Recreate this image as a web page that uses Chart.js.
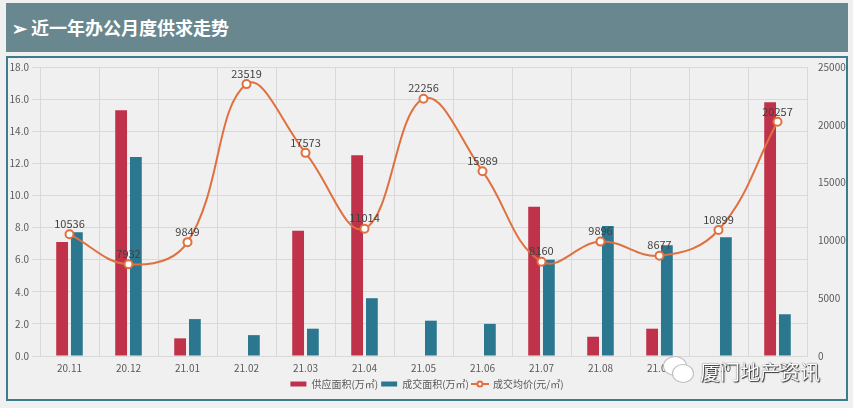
<!DOCTYPE html>
<html lang="zh">
<head>
    <meta charset="UTF-8">
    <title>近一年办公月度供求走势</title>
    <style>
        body {
            margin: 0;
            padding: 0;
            background-color: #f0f0f0;
            font-family: "Noto Sans CJK SC", sans-serif;
        }
        .title-bar {
            position: absolute;
            left: 6px;
            top: 3px;
            width: 842px;
            height: 49px;
            background-color: #68878f;
            color: white;
            font-size: 18px;
            font-weight: bold;
            line-height: 49px;
            padding-left: 6px;
            box-sizing: border-box;
        }
        .chart-box {
            position: absolute;
            left: 6px;
            top: 56px;
            width: 842px;
            height: 345px;
            border: 2px solid #3d7c8e;
            box-sizing: border-box;
            background-color: #f0f0f0;
        }
        .brand {
            position: absolute;
            left: 700px;
            top: 357px;
            font-size: 20px;
            color: white;
            text-shadow: 0 0 1px #333, 1px 1px 1px #333;
        }
        .bubble {
            position: absolute;
            background: white;
            border: 1px solid #bbb;
            border-radius: 50%;
        }
    </style>
</head>
<body>
    <div class="title-bar">➢ 近一年办公月度供求走势</div>
    <div class="chart-box">
        <canvas id="supplyChart" width="838" height="341"></canvas>
    </div>
    <div class="bubble" style="left:663px;top:356px;width:22px;height:18px;"></div>
    <div class="bubble" style="left:672px;top:364px;width:20px;height:17px;"></div>
    <div class="brand">厦门地产资讯</div>

    <script src="https://cdn.jsdelivr.net/npm/chart.js"></script>
    <script>
        // data
        const months = ['20.11', '20.12', '21.01', '21.02', '21.03', '21.04', '21.05',
                        '21.06', '21.07', '21.08', '21.09', '21.10', '21.11'];
        const supplyArea = [7.1, 15.3, 1.1, 0, 7.8, 12.5, 0, 0, 9.3, 1.2, 1.7, 0, 15.8];
        const dealArea = [7.7, 12.4, 2.3, 1.3, 1.7, 3.6, 2.2, 2.0, 6.0, 8.1, 6.9, 7.4, 2.6];
        const avgPrice = [10536, 7932, 9849, 23519, 17573, 11014, 22256, 15989, 8160, 9896, 8677, 10899, 20257];

        const red = '#bf3249';
        const teal = '#2c7790';
        const orange = '#e0703f';
        const gridColor = '#d9d9d9';
        const textColor = '#595959';

        // little line + circle icon for the legend
        const lineIcon = document.createElement('canvas');
        lineIcon.width = 18;
        lineIcon.height = 8;
        const ic = lineIcon.getContext('2d');
        ic.strokeStyle = orange;
        ic.lineWidth = 2;
        ic.beginPath();
        ic.moveTo(0, 4);
        ic.lineTo(18, 4);
        ic.stroke();
        ic.fillStyle = 'white';
        ic.beginPath();
        ic.arc(9, 4, 2.5, 0, Math.PI * 2);
        ic.fill();
        ic.stroke();

        // value labels above the price points
        const priceLabels = {
            id: 'priceLabels',
            afterDatasetsDraw(chart) {
                const ctx = chart.ctx;
                const meta = chart.getDatasetMeta(2);
                ctx.save();
                ctx.font = '11px "Noto Sans CJK SC", sans-serif';
                ctx.fillStyle = '#404040';
                ctx.textAlign = 'center';
                ctx.textBaseline = 'bottom';
                meta.data.forEach((pt, i) => {
                    ctx.fillText(avgPrice[i], pt.x, pt.y - 5);
                });
                ctx.restore();
            }
        };

        Chart.defaults.font.family = '"Noto Sans CJK SC", sans-serif';
        Chart.defaults.color = textColor;

        const ctx = document.getElementById('supplyChart').getContext('2d');
        new Chart(ctx, {
            type: 'bar',
            data: {
                labels: months,
                datasets: [
                    {
                        label: '供应面积(万㎡)',
                        data: supplyArea,
                        backgroundColor: red,
                        yAxisID: 'y',
                        order: 2,
                        categoryPercentage: 0.5,
                        barPercentage: 0.8
                    },
                    {
                        label: '成交面积(万㎡)',
                        data: dealArea,
                        backgroundColor: teal,
                        yAxisID: 'y',
                        order: 3,
                        categoryPercentage: 0.5,
                        barPercentage: 0.8
                    },
                    {
                        type: 'line',
                        label: '成交均价(元/㎡)',
                        data: avgPrice,
                        borderColor: orange,
                        backgroundColor: 'white',
                        borderWidth: 2,
                        pointRadius: 4,
                        pointBorderWidth: 2,
                        pointBackgroundColor: 'white',
                        pointBorderColor: orange,
                        pointStyle: 'circle',
                        tension: 0.4,
                        yAxisID: 'y1',
                        order: 1
                    }
                ]
            },
            options: {
                responsive: false,
                animation: false,
                layout: { padding: { top: 3, left: 0, right: 0, bottom: 0 } },
                plugins: {
                    legend: {
                        position: 'bottom',
                        labels: {
                            usePointStyle: true,
                            pointStyleWidth: 16,
                            boxHeight: 5,
                            padding: 3,
                            font: { size: 10 },
                            color: textColor,
                            generateLabels(chart) {
                                const items = Chart.defaults.plugins.legend.labels.generateLabels(chart);
                                items.forEach(item => {
                                    item.pointStyle = item.datasetIndex === 2 ? lineIcon : 'rect';
                                    item.lineWidth = 0;
                                });
                                return items;
                            },
                            sort: (a, b) => a.datasetIndex - b.datasetIndex
                        }
                    },
                    tooltip: { enabled: false }
                },
                scales: {
                    x: {
                        grid: { color: gridColor, offset: true, drawTicks: false },
                        border: { color: gridColor },
                        ticks: { font: { size: 10 }, color: textColor, padding: 6 },
                        afterFit(scale) { scale.height = 20; }
                    },
                    y: {
                        position: 'left',
                        min: 0,
                        max: 18,
                        ticks: {
                            stepSize: 2,
                            font: { size: 10 },
                            color: textColor,
                            callback: v => v.toFixed(1)
                        },
                        grid: { color: gridColor },
                        border: { color: gridColor },
                        afterFit(scale) { scale.width = 32; }
                    },
                    y1: {
                        position: 'right',
                        min: 0,
                        max: 25000,
                        ticks: {
                            stepSize: 5000,
                            font: { size: 10 },
                            color: textColor,
                            callback: v => String(v)
                        },
                        grid: { display: false },
                        border: { display: false },
                        afterFit(scale) { scale.width = 39; }
                    }
                }
            },
            plugins: [priceLabels]
        });
    </script>
</body>
</html>
